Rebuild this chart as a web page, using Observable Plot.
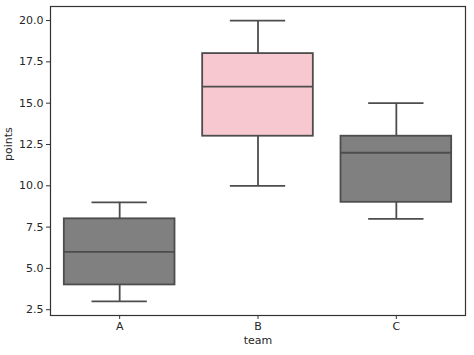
<!DOCTYPE html>
<html>
<head>
<meta charset="utf-8">
<script src="https://cdn.jsdelivr.net/npm/d3@7"></script>
<script src="https://cdn.jsdelivr.net/npm/@observablehq/plot@0.6"></script>
<style>
  html, body { margin: 0; padding: 0; background: #fff; }
  #chart svg { display: block; }
</style>
</head>
<body>
<div id="chart"></div>
<script>
const teams = ["A", "B", "C"];
const whiskerLow = [3, 10, 8];
const q1 = [4, 13, 9];
const median = [6, 16, 12];
const q3 = [8, 18, 13];
const whiskerHigh = [9, 20, 15];
const boxColors = ["#808080", "#f7c8d0", "#808080"];
const yTicks = [2.5, 5.0, 7.5, 10.0, 12.5, 15.0, 17.5, 20.0];

const data = teams.map((t, i) => ({
  i, team: t, lo: whiskerLow[i], q1: q1[i], med: median[i], q3: q3[i], hi: whiskerHigh[i], color: boxColors[i]
}));

const lineColor = "#4d4d4d";
const sw = 1.8;

const chart = Plot.plot({
  width: 474,
  height: 355,
  marginLeft: 50,
  marginTop: 6,
  marginRight: 9,
  marginBottom: 40,
  style: { fontFamily: "DejaVu Sans", fontSize: "11px", color: "#262626", background: "#fff" },
  x: { domain: [-0.5, 2.5], axis: null },
  y: { domain: [2.15, 20.85], axis: null },
  marks: [
    Plot.axisY({ ticks: yTicks, tickFormat: d => d.toFixed(1), tickSize: 4, tickPadding: 3, label: null, fontSize: 11, stroke: "#333" }),
    Plot.axisX({ ticks: [0, 1, 2], tickFormat: d => teams[d], tickSize: 4, tickPadding: 3, label: null, fontSize: 11, stroke: "#333" }),
    // whiskers
    Plot.ruleX(data, { x: "i", y1: "lo", y2: "q1", stroke: lineColor, strokeWidth: sw }),
    Plot.ruleX(data, { x: "i", y1: "q3", y2: "hi", stroke: lineColor, strokeWidth: sw }),
    // caps
    Plot.ruleY(data, { y: "lo", x1: d => d.i - 0.2, x2: d => d.i + 0.2, stroke: lineColor, strokeWidth: sw }),
    Plot.ruleY(data, { y: "hi", x1: d => d.i - 0.2, x2: d => d.i + 0.2, stroke: lineColor, strokeWidth: sw }),
    // boxes
    Plot.rect(data, { x1: d => d.i - 0.4, x2: d => d.i + 0.4, y1: "q1", y2: "q3", fill: "color", stroke: lineColor, strokeWidth: sw }),
    // medians
    Plot.ruleY(data, { y: "med", x1: d => d.i - 0.4, x2: d => d.i + 0.4, stroke: lineColor, strokeWidth: sw }),
    Plot.frame({ stroke: "#333", strokeWidth: 1.2 }),
    Plot.text(["points"], { frameAnchor: "left", rotate: -90, dx: -42, fontSize: 11, fill: "#262626" }),
    Plot.text(["team"], { frameAnchor: "bottom", dy: 28, fontSize: 11, fill: "#262626" })
  ]
});
document.getElementById("chart").appendChild(chart);
</script>
</body>
</html>
